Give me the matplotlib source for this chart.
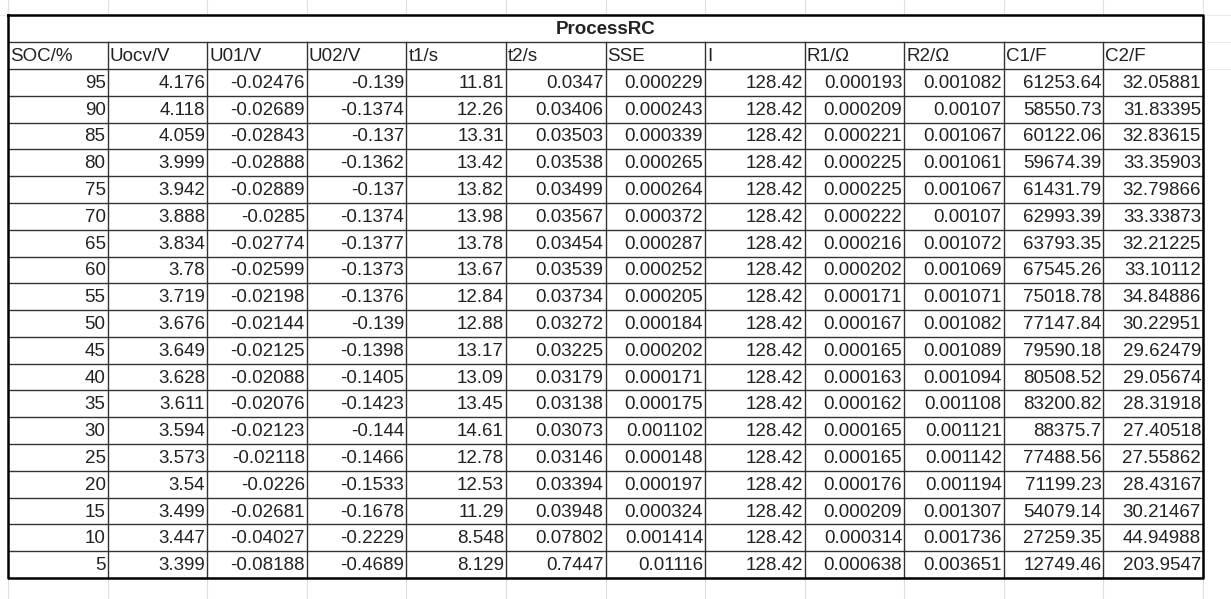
import matplotlib
matplotlib.use("Agg")
import matplotlib.pyplot as plt

title = "ProcessRC"
headers = ["SOC/%", "Uocv/V", "U01/V", "U02/V", "t1/s", "t2/s", "SSE", "I", "R1/Ω", "R2/Ω", "C1/F", "C2/F"]
soc = [95, 90, 85, 80, 75, 70, 65, 60, 55, 50, 45, 40, 35, 30, 25, 20, 15, 10, 5]
uocv = [4.176, 4.118, 4.059, 3.999, 3.942, 3.888, 3.834, 3.78, 3.719, 3.676, 3.649, 3.628, 3.611, 3.594, 3.573, 3.54, 3.499, 3.447, 3.399]
u01 = [-0.02476, -0.02689, -0.02843, -0.02888, -0.02889, -0.0285, -0.02774, -0.02599, -0.02198, -0.02144, -0.02125, -0.02088, -0.02076, -0.02123, -0.02118, -0.0226, -0.02681, -0.04027, -0.08188]
u02 = [-0.139, -0.1374, -0.137, -0.1362, -0.137, -0.1374, -0.1377, -0.1373, -0.1376, -0.139, -0.1398, -0.1405, -0.1423, -0.144, -0.1466, -0.1533, -0.1678, -0.2229, -0.4689]
t1 = [11.81, 12.26, 13.31, 13.42, 13.82, 13.98, 13.78, 13.67, 12.84, 12.88, 13.17, 13.09, 13.45, 14.61, 12.78, 12.53, 11.29, 8.548, 8.129]
t2 = [0.0347, 0.03406, 0.03503, 0.03538, 0.03499, 0.03567, 0.03454, 0.03539, 0.03734, 0.03272, 0.03225, 0.03179, 0.03138, 0.03073, 0.03146, 0.03394, 0.03948, 0.07802, 0.7447]
sse = [0.000229, 0.000243, 0.000339, 0.000265, 0.000264, 0.000372, 0.000287, 0.000252, 0.000205, 0.000184, 0.000202, 0.000171, 0.000175, 0.001102, 0.000148, 0.000197, 0.000324, 0.001414, 0.01116]
cur = [128.42] * 19
r1 = [0.000193, 0.000209, 0.000221, 0.000225, 0.000225, 0.000222, 0.000216, 0.000202, 0.000171, 0.000167, 0.000165, 0.000163, 0.000162, 0.000165, 0.000165, 0.000176, 0.000209, 0.000314, 0.000638]
r2 = [0.001082, 0.00107, 0.001067, 0.001061, 0.001067, 0.00107, 0.001072, 0.001069, 0.001071, 0.001082, 0.001089, 0.001094, 0.001108, 0.001121, 0.001142, 0.001194, 0.001307, 0.001736, 0.003651]
c1 = [61253.64, 58550.73, 60122.06, 59674.39, 61431.79, 62993.39, 63793.35, 67545.26, 75018.78, 77147.84, 79590.18, 80508.52, 83200.82, 88375.7, 77488.56, 71199.23, 54079.14, 27259.35, 12749.46]
c2 = [32.05881, 31.83395, 32.83615, 33.35903, 32.79866, 33.33873, 32.21225, 33.10112, 34.84886, 30.22951, 29.62479, 29.05674, 28.31918, 27.40518, 27.55862, 28.43167, 30.21467, 44.94988, 203.9547]
columns = [soc, uocv, u01, u02, t1, t2, sse, cur, r1, r2, c1, c2]

fig = plt.figure(figsize=(12.31, 5.99), dpi=100)
ax = fig.add_axes([0, 0, 1, 1])
ax.set_xlim(0, 1231)
ax.set_ylim(599, 0)
ax.axis("off")

ncol = len(headers)
nrow = len(soc)
x0, x1 = 8, 1203
cw = (x1 - x0) / ncol
top, ht, dt, bot = 15, 42, 69, 578
rh = (bot - dt) / nrow
font = "Liberation Sans"
fs = 13.5
lc = "#333333"

for j in range(ncol + 1):
    ax.plot([x0 + j * cw] * 2, [0, top], color="#e0e0e0", lw=0.8)
    ax.plot([x0 + j * cw] * 2, [bot, 599], color="#e0e0e0", lw=0.8)
ax.plot([0, 1231], [top - 0.5, top - 0.5], color="#e6e6e6", lw=0.6)
ax.plot([1207, 1231], [ht, ht], color="#e6e6e6", lw=0.6)
ax.plot([1207, 1231], [dt, dt], color="#e6e6e6", lw=0.6)

ax.text((x0 + x1) / 2, (top + ht) / 2 + 1, title, ha="center", va="center",
        fontsize=fs, fontweight="bold", family=font, color="#222222")
ax.plot([x0, x1], [ht, ht], color=lc, lw=1)

for j, h in enumerate(headers):
    ax.text(x0 + j * cw + 2, (ht + dt) / 2 + 1, h, ha="left", va="center",
            fontsize=fs, family=[font, "DejaVu Sans"], color="#222222")
for j in range(1, ncol):
    ax.plot([x0 + j * cw] * 2, [ht, bot], color=lc, lw=1)
for i in range(nrow):
    ax.plot([x0, x1], [dt + i * rh] * 2, color=lc, lw=1)

for i in range(nrow):
    for j, col in enumerate(columns):
        ax.text(x0 + (j + 1) * cw - 2, dt + i * rh + rh / 2 + 1, str(col[i]),
                ha="right", va="center", fontsize=fs, family=font, color="#222222")

ax.plot([x0, x1, x1, x0, x0], [top, top, bot, bot, top], color="black", lw=1.8)

fig.savefig("out.png", dpi=100, facecolor="white")
